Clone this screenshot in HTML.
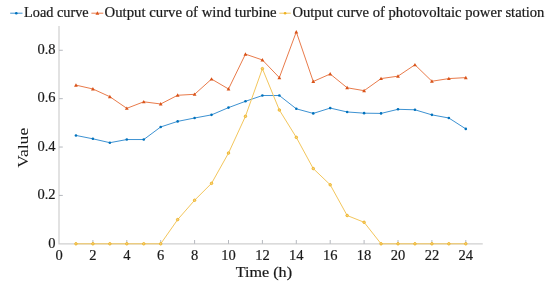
<!DOCTYPE html>
<html><head><meta charset="utf-8"><style>
html,body{margin:0;padding:0;background:#fff;}
body{width:550px;height:285px;overflow:hidden;}
svg{display:block;filter:blur(0.3px);}
</style></head><body>
<svg width="550" height="285" viewBox="0 0 550 285"><rect width="550" height="285" fill="#fff"/><path d="M59.0,26.0V243.95000000000002H482.75" fill="none" stroke="#CFCFCF" stroke-width="1.2"/><path d="M92.90,243.8v-3.8M126.80,243.8v-3.8M160.70,243.8v-3.8M194.60,243.8v-3.8M228.50,243.8v-3.8M262.40,243.8v-3.8M296.30,243.8v-3.8M330.20,243.8v-3.8M364.10,243.8v-3.8M398.00,243.8v-3.8M431.90,243.8v-3.8M465.80,243.8v-3.8M59.0,195.42h3.8M59.0,147.04h3.8M59.0,98.66h3.8M59.0,50.28h3.8" stroke="#B5B8BE" stroke-width="1" fill="none"/><polyline points="75.95,135.43 92.90,138.82 109.85,142.69 126.80,139.54 143.75,139.54 160.70,126.96 177.65,121.40 194.60,118.01 211.55,114.87 228.50,107.61 245.45,101.32 262.40,95.52 279.35,95.52 296.30,108.82 313.25,113.42 330.20,108.09 347.15,111.96 364.10,113.17 381.05,113.42 398.00,109.30 414.95,109.79 431.90,114.87 448.85,118.01 465.80,128.90" fill="none" stroke="#3D92D2" stroke-width="1.0"/><circle cx="75.95" cy="135.43" r="1.3" fill="#0072BD"/><circle cx="92.90" cy="138.82" r="1.3" fill="#0072BD"/><circle cx="109.85" cy="142.69" r="1.3" fill="#0072BD"/><circle cx="126.80" cy="139.54" r="1.3" fill="#0072BD"/><circle cx="143.75" cy="139.54" r="1.3" fill="#0072BD"/><circle cx="160.70" cy="126.96" r="1.3" fill="#0072BD"/><circle cx="177.65" cy="121.40" r="1.3" fill="#0072BD"/><circle cx="194.60" cy="118.01" r="1.3" fill="#0072BD"/><circle cx="211.55" cy="114.87" r="1.3" fill="#0072BD"/><circle cx="228.50" cy="107.61" r="1.3" fill="#0072BD"/><circle cx="245.45" cy="101.32" r="1.3" fill="#0072BD"/><circle cx="262.40" cy="95.52" r="1.3" fill="#0072BD"/><circle cx="279.35" cy="95.52" r="1.3" fill="#0072BD"/><circle cx="296.30" cy="108.82" r="1.3" fill="#0072BD"/><circle cx="313.25" cy="113.42" r="1.3" fill="#0072BD"/><circle cx="330.20" cy="108.09" r="1.3" fill="#0072BD"/><circle cx="347.15" cy="111.96" r="1.3" fill="#0072BD"/><circle cx="364.10" cy="113.17" r="1.3" fill="#0072BD"/><circle cx="381.05" cy="113.42" r="1.3" fill="#0072BD"/><circle cx="398.00" cy="109.30" r="1.3" fill="#0072BD"/><circle cx="414.95" cy="109.79" r="1.3" fill="#0072BD"/><circle cx="431.90" cy="114.87" r="1.3" fill="#0072BD"/><circle cx="448.85" cy="118.01" r="1.3" fill="#0072BD"/><circle cx="465.80" cy="128.90" r="1.3" fill="#0072BD"/><polyline points="75.95,85.11 92.90,88.98 109.85,96.72 126.80,108.34 143.75,101.80 160.70,103.98 177.65,95.27 194.60,94.31 211.55,79.07 228.50,88.98 245.45,54.15 262.40,59.96 279.35,77.61 296.30,31.90 313.25,81.49 330.20,73.99 347.15,87.77 364.10,90.68 381.05,78.58 398.00,76.16 414.95,64.79 431.90,81.24 448.85,78.58 465.80,77.61" fill="none" stroke="#E97B4B" stroke-width="1.0"/><path d="M75.95,83.21L77.85,86.63L74.05,86.63Z" fill="#D95319"/><path d="M92.90,87.08L94.80,90.50L91.00,90.50Z" fill="#D95319"/><path d="M109.85,94.82L111.75,98.24L107.95,98.24Z" fill="#D95319"/><path d="M126.80,106.44L128.70,109.86L124.90,109.86Z" fill="#D95319"/><path d="M143.75,99.90L145.65,103.32L141.85,103.32Z" fill="#D95319"/><path d="M160.70,102.08L162.60,105.50L158.80,105.50Z" fill="#D95319"/><path d="M177.65,93.37L179.55,96.79L175.75,96.79Z" fill="#D95319"/><path d="M194.60,92.41L196.50,95.83L192.70,95.83Z" fill="#D95319"/><path d="M211.55,77.17L213.45,80.59L209.65,80.59Z" fill="#D95319"/><path d="M228.50,87.08L230.40,90.50L226.60,90.50Z" fill="#D95319"/><path d="M245.45,52.25L247.35,55.67L243.55,55.67Z" fill="#D95319"/><path d="M262.40,58.06L264.30,61.48L260.50,61.48Z" fill="#D95319"/><path d="M279.35,75.71L281.25,79.13L277.45,79.13Z" fill="#D95319"/><path d="M296.30,30.00L298.20,33.42L294.40,33.42Z" fill="#D95319"/><path d="M313.25,79.59L315.15,83.01L311.35,83.01Z" fill="#D95319"/><path d="M330.20,72.09L332.10,75.51L328.30,75.51Z" fill="#D95319"/><path d="M347.15,85.87L349.05,89.29L345.25,89.29Z" fill="#D95319"/><path d="M364.10,88.78L366.00,92.20L362.20,92.20Z" fill="#D95319"/><path d="M381.05,76.68L382.95,80.10L379.15,80.10Z" fill="#D95319"/><path d="M398.00,74.26L399.90,77.68L396.10,77.68Z" fill="#D95319"/><path d="M414.95,62.89L416.85,66.31L413.05,66.31Z" fill="#D95319"/><path d="M431.90,79.34L433.80,82.76L430.00,82.76Z" fill="#D95319"/><path d="M448.85,76.68L450.75,80.10L446.95,80.10Z" fill="#D95319"/><path d="M465.80,75.71L467.70,79.13L463.90,79.13Z" fill="#D95319"/><polyline points="75.95,243.80 92.90,243.80 109.85,243.80 126.80,243.80 143.75,243.80 160.70,243.80 177.65,219.61 194.60,200.26 211.55,183.33 228.50,153.09 245.45,116.32 262.40,68.66 279.35,110.03 296.30,137.36 313.25,168.57 330.20,184.78 347.15,215.50 364.10,222.27 381.05,243.80 398.00,243.80 414.95,243.80 431.90,243.80 448.85,243.80 465.80,243.80" fill="none" stroke="#F3C65C" stroke-width="1.0"/><circle cx="75.95" cy="243.80" r="1.25" fill="#F6D27E" stroke="#EDB120" stroke-width="0.9"/><circle cx="92.90" cy="243.80" r="1.25" fill="#F6D27E" stroke="#EDB120" stroke-width="0.9"/><circle cx="109.85" cy="243.80" r="1.25" fill="#F6D27E" stroke="#EDB120" stroke-width="0.9"/><circle cx="126.80" cy="243.80" r="1.25" fill="#F6D27E" stroke="#EDB120" stroke-width="0.9"/><circle cx="143.75" cy="243.80" r="1.25" fill="#F6D27E" stroke="#EDB120" stroke-width="0.9"/><circle cx="160.70" cy="243.80" r="1.25" fill="#F6D27E" stroke="#EDB120" stroke-width="0.9"/><circle cx="177.65" cy="219.61" r="1.25" fill="#F6D27E" stroke="#EDB120" stroke-width="0.9"/><circle cx="194.60" cy="200.26" r="1.25" fill="#F6D27E" stroke="#EDB120" stroke-width="0.9"/><circle cx="211.55" cy="183.33" r="1.25" fill="#F6D27E" stroke="#EDB120" stroke-width="0.9"/><circle cx="228.50" cy="153.09" r="1.25" fill="#F6D27E" stroke="#EDB120" stroke-width="0.9"/><circle cx="245.45" cy="116.32" r="1.25" fill="#F6D27E" stroke="#EDB120" stroke-width="0.9"/><circle cx="262.40" cy="68.66" r="1.25" fill="#F6D27E" stroke="#EDB120" stroke-width="0.9"/><circle cx="279.35" cy="110.03" r="1.25" fill="#F6D27E" stroke="#EDB120" stroke-width="0.9"/><circle cx="296.30" cy="137.36" r="1.25" fill="#F6D27E" stroke="#EDB120" stroke-width="0.9"/><circle cx="313.25" cy="168.57" r="1.25" fill="#F6D27E" stroke="#EDB120" stroke-width="0.9"/><circle cx="330.20" cy="184.78" r="1.25" fill="#F6D27E" stroke="#EDB120" stroke-width="0.9"/><circle cx="347.15" cy="215.50" r="1.25" fill="#F6D27E" stroke="#EDB120" stroke-width="0.9"/><circle cx="364.10" cy="222.27" r="1.25" fill="#F6D27E" stroke="#EDB120" stroke-width="0.9"/><circle cx="381.05" cy="243.80" r="1.25" fill="#F6D27E" stroke="#EDB120" stroke-width="0.9"/><circle cx="398.00" cy="243.80" r="1.25" fill="#F6D27E" stroke="#EDB120" stroke-width="0.9"/><circle cx="414.95" cy="243.80" r="1.25" fill="#F6D27E" stroke="#EDB120" stroke-width="0.9"/><circle cx="431.90" cy="243.80" r="1.25" fill="#F6D27E" stroke="#EDB120" stroke-width="0.9"/><circle cx="448.85" cy="243.80" r="1.25" fill="#F6D27E" stroke="#EDB120" stroke-width="0.9"/><circle cx="465.80" cy="243.80" r="1.25" fill="#F6D27E" stroke="#EDB120" stroke-width="0.9"/><text x="55.5" y="247.60" text-anchor="end" font-size="14.5" fill="#1a1a1a" font-family="Liberation Serif, serif" stroke="#1a1a1a" stroke-width="0.2">0</text><text x="55.5" y="199.22" text-anchor="end" font-size="14.5" fill="#1a1a1a" font-family="Liberation Serif, serif" stroke="#1a1a1a" stroke-width="0.2">0.2</text><text x="55.5" y="150.84" text-anchor="end" font-size="14.5" fill="#1a1a1a" font-family="Liberation Serif, serif" stroke="#1a1a1a" stroke-width="0.2">0.4</text><text x="55.5" y="102.46" text-anchor="end" font-size="14.5" fill="#1a1a1a" font-family="Liberation Serif, serif" stroke="#1a1a1a" stroke-width="0.2">0.6</text><text x="55.5" y="54.08" text-anchor="end" font-size="14.5" fill="#1a1a1a" font-family="Liberation Serif, serif" stroke="#1a1a1a" stroke-width="0.2">0.8</text><text x="59.00" y="260.0" text-anchor="middle" font-size="14.5" fill="#1a1a1a" font-family="Liberation Serif, serif" stroke="#1a1a1a" stroke-width="0.2">0</text><text x="92.90" y="260.0" text-anchor="middle" font-size="14.5" fill="#1a1a1a" font-family="Liberation Serif, serif" stroke="#1a1a1a" stroke-width="0.2">2</text><text x="126.80" y="260.0" text-anchor="middle" font-size="14.5" fill="#1a1a1a" font-family="Liberation Serif, serif" stroke="#1a1a1a" stroke-width="0.2">4</text><text x="160.70" y="260.0" text-anchor="middle" font-size="14.5" fill="#1a1a1a" font-family="Liberation Serif, serif" stroke="#1a1a1a" stroke-width="0.2">6</text><text x="194.60" y="260.0" text-anchor="middle" font-size="14.5" fill="#1a1a1a" font-family="Liberation Serif, serif" stroke="#1a1a1a" stroke-width="0.2">8</text><text x="228.50" y="260.0" text-anchor="middle" font-size="14.5" fill="#1a1a1a" font-family="Liberation Serif, serif" stroke="#1a1a1a" stroke-width="0.2">10</text><text x="262.40" y="260.0" text-anchor="middle" font-size="14.5" fill="#1a1a1a" font-family="Liberation Serif, serif" stroke="#1a1a1a" stroke-width="0.2">12</text><text x="296.30" y="260.0" text-anchor="middle" font-size="14.5" fill="#1a1a1a" font-family="Liberation Serif, serif" stroke="#1a1a1a" stroke-width="0.2">14</text><text x="330.20" y="260.0" text-anchor="middle" font-size="14.5" fill="#1a1a1a" font-family="Liberation Serif, serif" stroke="#1a1a1a" stroke-width="0.2">16</text><text x="364.10" y="260.0" text-anchor="middle" font-size="14.5" fill="#1a1a1a" font-family="Liberation Serif, serif" stroke="#1a1a1a" stroke-width="0.2">18</text><text x="398.00" y="260.0" text-anchor="middle" font-size="14.5" fill="#1a1a1a" font-family="Liberation Serif, serif" stroke="#1a1a1a" stroke-width="0.2">20</text><text x="431.90" y="260.0" text-anchor="middle" font-size="14.5" fill="#1a1a1a" font-family="Liberation Serif, serif" stroke="#1a1a1a" stroke-width="0.2">22</text><text x="465.80" y="260.0" text-anchor="middle" font-size="14.5" fill="#1a1a1a" font-family="Liberation Serif, serif" stroke="#1a1a1a" stroke-width="0.2">24</text><text x="263.9" y="276.5" text-anchor="middle" font-size="15" textLength="56.2" lengthAdjust="spacingAndGlyphs" fill="#1a1a1a" font-family="Liberation Serif, serif" stroke="#1a1a1a" stroke-width="0.22">Time (h)</text><text transform="translate(28.3,147.8) rotate(-90)" x="0" y="0" text-anchor="middle" font-size="15.5" textLength="40" lengthAdjust="spacingAndGlyphs" fill="#1a1a1a" font-family="Liberation Serif, serif" stroke="#1a1a1a" stroke-width="0.05">Value</text><line x1="10.2" y1="13.2" x2="22.5" y2="13.2" stroke="#3D92D2" stroke-width="1.0"/><circle cx="16.3" cy="13.2" r="1.3" fill="#0072BD"/><text x="24.1" y="16.9" font-size="14.5" textLength="64.6" lengthAdjust="spacingAndGlyphs" fill="#1a1a1a" font-family="Liberation Serif, serif" stroke="#1a1a1a" stroke-width="0.22">Load curve</text><line x1="91.4" y1="13.2" x2="103.3" y2="13.2" stroke="#E97B4B" stroke-width="1.0"/><path d="M97.4,11.299999999999999L99.30000000000001,14.719999999999999L95.5,14.719999999999999Z" fill="#D95319"/><text x="104.6" y="16.9" font-size="14.5" textLength="172" lengthAdjust="spacingAndGlyphs" fill="#1a1a1a" font-family="Liberation Serif, serif" stroke="#1a1a1a" stroke-width="0.22">Output curve of wind turbine</text><line x1="279.3" y1="13.2" x2="290.8" y2="13.2" stroke="#F3C65C" stroke-width="1.0"/><circle cx="285.1" cy="13.2" r="1.3" fill="#EDB120"/><text x="292.4" y="16.9" font-size="14.5" textLength="252.0" lengthAdjust="spacingAndGlyphs" fill="#1a1a1a" font-family="Liberation Serif, serif" stroke="#1a1a1a" stroke-width="0.22">Output curve of photovoltaic power station</text></svg>
</body></html>
